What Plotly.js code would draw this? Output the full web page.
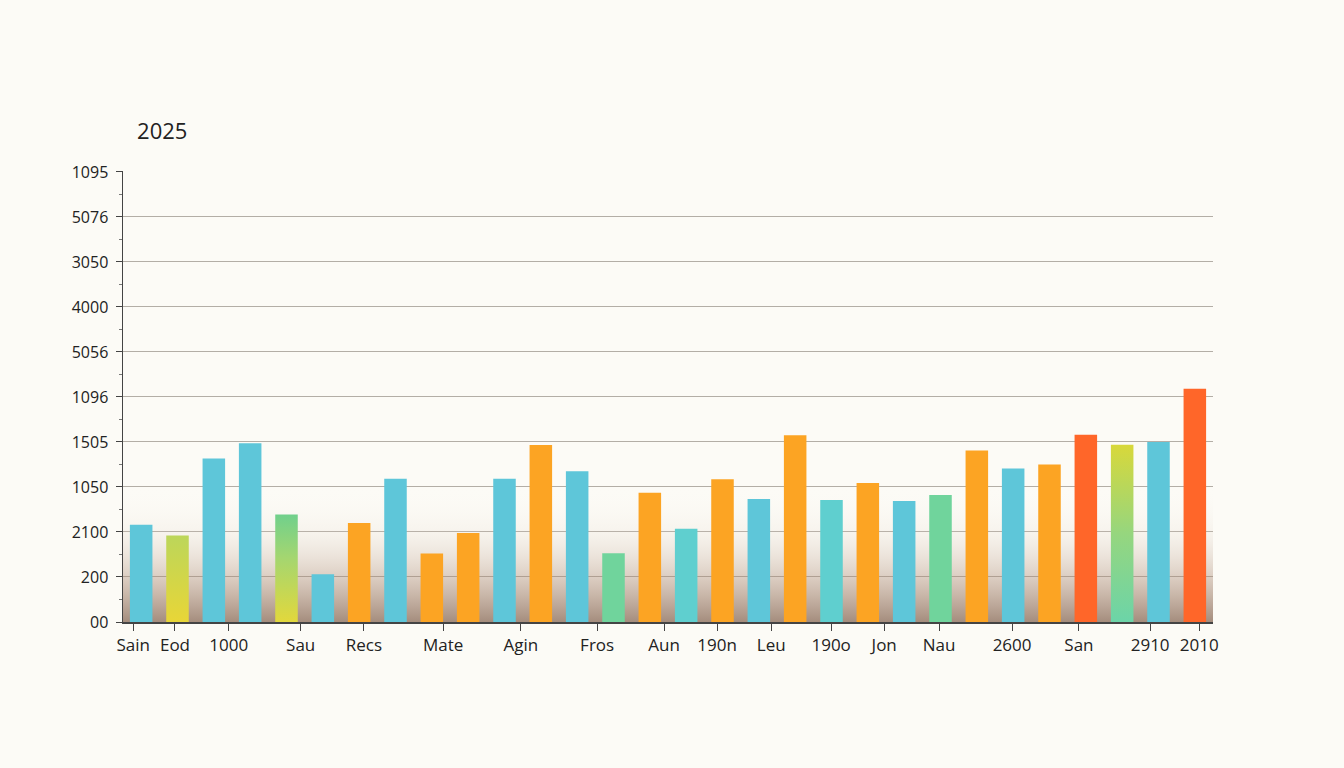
<!DOCTYPE html>
<html>
<head>
<meta charset="utf-8">
<script src="https://cdn.plot.ly/plotly-3.0.1.min.js"></script>
<style>
  html, body { margin: 0; padding: 0; background: #fcfbf6; }
  #chart { width: 1344px; height: 768px; }
</style>
</head>
<body>
<div id="chart"></div>
<script>
// ---- data ----
const chartTitle = "2025";
const barValues = [2.16, 1.92, 3.63, 3.97, 2.39, 1.06, 2.20, 3.18, 1.52, 1.98,
                   3.18, 3.93, 3.35, 1.53, 2.87, 2.07, 3.17, 2.73, 4.15, 2.71,
                   3.09, 2.69, 2.82, 3.81, 3.41, 3.50, 4.16, 3.94, 4.00, 5.18];
const barKinds  = ["cyan","grad1","cyan","cyan","grad2","cyan","orange","cyan","orange","orange",
                   "cyan","orange","cyan","green","orange","teal","orange","cyan","orange","teal",
                   "orange","cyan","green","orange","cyan","orange","red","grad3","cyan","red"];
const yTickText = ["00","200","2100","1050","1505","1096","5056","4000","3050","5076","1095"];
const xTickText = ["Sain","Eod","1000","Sau","Recs","Mate","Agin","Fros","Aun","190n",
                   "Leu","190o","Jon","Nau","2600","San","2910","2010"];
const xTickAt   = [-0.22, 0.93, 2.41, 4.39, 6.13, 8.31, 10.45, 12.55, 14.39, 15.85,
                   17.34, 18.99, 20.45, 21.96, 23.97, 25.81, 27.77, 29.12];

// ---- styles ----
const solid = {cyan:"#5ec6d9", orange:"#fca423", green:"#70d49c", teal:"#5fcfcf", red:"#ff6629"};
const grads = {
  grad1: [[0,"#e8d637"],[1,"#bcd65a"]],
  grad2: [[0,"#e2d83c"],[0.6,"#a4d670"],[1,"#70d08c"]],
  grad3: [[0,"#6cd4a8"],[0.5,"#96d67e"],[1,"#d8d83a"]]
};
const barW = 0.62;
const yMax = 10.02;

const xs = barValues.map((_, i) => i);
const colors = barKinds.map(k => solid[k] || "rgba(0,0,0,0)");

const traces = [];
// soft shadow band behind bars (base subplot, drawn underneath)
traces.push({
  type: "scatter", mode: "lines", hoverinfo: "skip", showlegend: false,
  xaxis: "x", yaxis: "y",
  x: [-0.5, xs.length - 0.3, xs.length - 0.3, -0.5],
  y: [0, 0, 3.0, 3.0],
  fill: "toself", line: {width: 0},
  fillgradient: {type: "vertical",
    colorscale: [[0,"rgba(130,98,78,0.72)"],[0.3,"rgba(165,130,108,0.42)"],[0.65,"rgba(215,195,180,0.15)"],[1,"rgba(252,251,246,0)"]]}
});
// bars (overlay subplot, drawn above the shadow)
traces.push({
  type: "bar", x: xs, y: barValues, width: barW,
  xaxis: "x2", yaxis: "y2",
  marker: {color: colors, line: {width: 0}},
  hoverinfo: "y", showlegend: false
});
// gradient bars
barKinds.forEach((k, i) => {
  if (!grads[k]) return;
  traces.push({
    type: "scatter", mode: "lines", hoverinfo: "skip", showlegend: false,
    xaxis: "x2", yaxis: "y2",
    x: [i - barW/2, i + barW/2, i + barW/2, i - barW/2],
    y: [0, 0, barValues[i], barValues[i]],
    fill: "toself", line: {width: 0},
    fillgradient: {type: "vertical", colorscale: grads[k]}
  });
});

const xRange = [-0.5, xs.length - 0.5];
const layout = {
  width: 1344, height: 768,
  paper_bgcolor: "#fcfbf6", plot_bgcolor: "#fcfbf6",
  margin: {l: 123, r: 131, t: 171, b: 146},
  font: {family: "Open Sans, Lato, sans-serif", color: "#222", size: 16},
  title: {text: chartTitle, xref: "container", yref: "container",
          x: 0.102, xanchor: "left", y: 0.829, yanchor: "middle",
          font: {size: 22, color: "#222"}},
  showlegend: false,
  xaxis: {
    range: xRange, zeroline: false, showgrid: false,
    showline: true, linecolor: "#444", linewidth: 1.5,
    tickmode: "array", tickvals: xTickAt, ticktext: xTickText,
    ticks: "outside", ticklen: 7, tickcolor: "#444", tickwidth: 1,
    tickfont: {size: 17, color: "#222"}
  },
  yaxis: {
    range: [0, yMax], zeroline: false,
    showline: true, linecolor: "#444", linewidth: 1.5,
    showgrid: true, gridcolor: "#b3aea6", gridwidth: 1,
    tickmode: "array", tickvals: yTickText.map((_, i) => i), ticktext: yTickText,
    ticks: "outside", ticklen: 6, tickcolor: "#444", tickwidth: 1,
    ticklabelstandoff: 4,
    tickfont: {size: 16, color: "#222"},
    minor: {tickmode: "array", tickvals: yTickText.slice(1).map((_, i) => i + 0.5),
            ticks: "outside", ticklen: 3, tickcolor: "#777", showgrid: false}
  },
  xaxis2: {overlaying: "x", range: xRange, visible: false, fixedrange: true},
  yaxis2: {overlaying: "y", range: [0, yMax], visible: false, fixedrange: true}
};

Plotly.newPlot("chart", traces, layout, {displayModeBar: false, staticPlot: true});
</script>
</body>
</html>
